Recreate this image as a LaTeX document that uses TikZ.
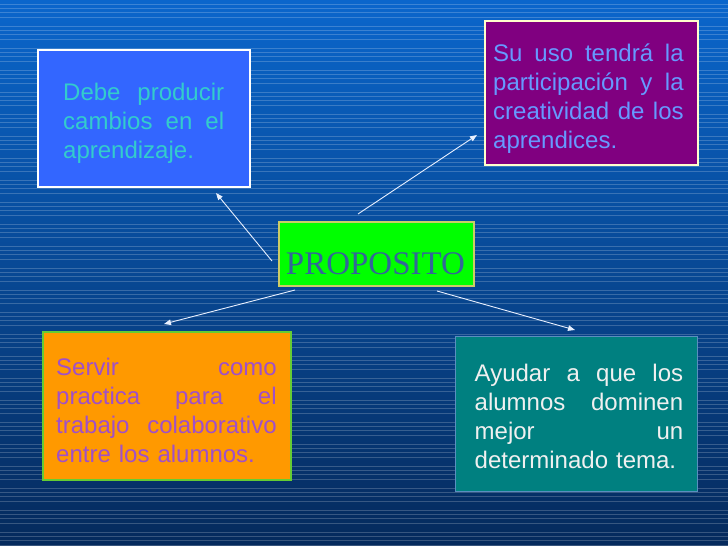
\documentclass[tikz,border=0pt]{standalone}
\usepackage{fontspec}
\setmainfont{Liberation Sans}
\newfontfamily\propfont{Liberation Serif}
\usetikzlibrary{arrows.meta}
\definecolor{bgtop}{HTML}{0A66CC}
\definecolor{bgbot}{HTML}{052A5C}
\definecolor{bluefill}{HTML}{3366FF}
\definecolor{bluetext}{HTML}{33CCCC}
\definecolor{purplefill}{HTML}{800080}
\definecolor{purpletext}{HTML}{6699FF}
\definecolor{purpleedge}{HTML}{FFFFCC}
\definecolor{greenfill}{HTML}{00FF00}
\definecolor{greenedge}{HTML}{CCCC66}
\definecolor{greentext}{HTML}{336699}
\definecolor{orangefill}{HTML}{FF9900}
\definecolor{orangeedge}{HTML}{66CC33}
\definecolor{orangetext}{HTML}{A050C8}
\definecolor{tealfill}{HTML}{008080}
\definecolor{tealedge}{HTML}{5A8FC0}
\definecolor{tealtext}{HTML}{F0F0F0}
\definecolor{arrowcol}{HTML}{E8F0FF}
\begin{document}
\begin{tikzpicture}[x=1pt,y=-1pt,
  box/.style={anchor=north west, inner sep=0pt, line width=1.5pt},
  txt/.style={anchor=base west, inner sep=0pt, align=left,
    font=\fontsize{24}{29}\selectfont},
  stripe/.style={white, opacity=0.2, line width=0.9pt},
  arr/.style={arrowcol, line width=0.9pt, -{Triangle[length=7pt,width=5.5pt]}}]
\useasboundingbox (0,0) rectangle (728,546);
\shade[top color=bgtop, bottom color=bgbot] (0,0) rectangle (728,546);
\foreach \k in {0,...,24}{
  \foreach \o in {4,8.4,12.8,17.2}{
    \draw[stripe] (0,{22*\k+\o}) -- (728,{22*\k+\o});
  }
}
% boxes
\node[box, fill=bluefill, draw=white, minimum width=212pt, minimum height=137pt] (b1) at (37,49) {};
\node[box, fill=purplefill, draw=purpleedge, minimum width=213pt, minimum height=144pt] (b2) at (484,20) {};
\node[box, fill=greenfill, draw=greenedge, minimum width=195pt, minimum height=64pt] (b0) at (278,221) {};
\node[box, fill=orangefill, draw=orangeedge, line width=2pt, minimum width=248pt, minimum height=148pt] (b3) at (42,331) {};
\node[box, fill=tealfill, draw=tealedge, line width=1pt, minimum width=242pt, minimum height=155pt] (b4) at (455,336) {};
% texts
\node[txt, text=bluetext, text width=161pt] (t1) at (63,100)
  {Debe\hfill producir\\cambios\hfill en\hfill el\\aprendizaje.};
\node[txt, text=purpletext, text width=190.5pt] (t2) at (493,61)
  {Su\hfill uso\hfill tendrá\hfill la\\participación\hfill y\hfill la\\creatividad\hfill de\hfill los\\aprendices.};
\node[txt, text=orangetext, text width=220.5pt] (t3) at (56,375.5)
  {Servir\hfill como\\practica\hfill para\hfill el\\trabajo\hfill colaborativo\\entre los alumnos.};
\node[txt, text=tealtext, text width=208.5pt] (t4) at (474.5,381.5)
  {Ayudar\hfill a\hfill que\hfill los\\alumnos\hfill dominen\\mejor\hfill un\\determinado tema.};
\node[anchor=base, inner sep=0pt, text=greentext, font=\propfont\fontsize{33}{36}\selectfont] (t0) at (375.5,274) {PROPOSITO};
% connectors
\coordinate (a1s) at (272,261); \coordinate (a1e) at (216,193);
\coordinate (a2s) at (358,214); \coordinate (a2e) at (477,135);
\coordinate (a3s) at (295,290); \coordinate (a3e) at (164,324);
\coordinate (a4s) at (437,291); \coordinate (a4e) at (575,330);
\draw[arr] (a1s) -- (a1e);
\draw[arr] (a2s) -- (a2e);
\draw[arr] (a3s) -- (a3e);
\draw[arr] (a4s) -- (a4e);
\end{tikzpicture}
\end{document}
